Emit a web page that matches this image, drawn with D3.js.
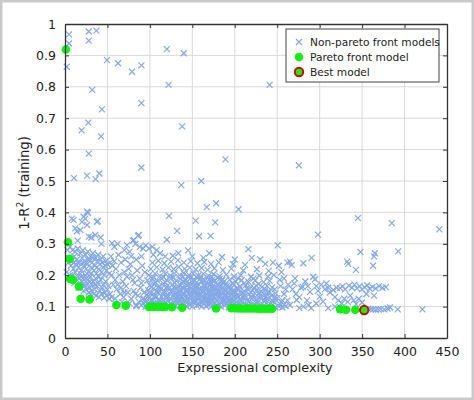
<!DOCTYPE html>
<html>
<head>
<meta charset="utf-8">
<script src="https://cdn.jsdelivr.net/npm/d3@7"></script>
<style>
  body { margin: 0; background: #fff; }
  svg text { font-family: "DejaVu Sans", Verdana, sans-serif; fill: #222; }
</style>
</head>
<body>
<svg id="chart" width="474" height="400"></svg>
<script>
// axis ticks
const xTicks = [0, 50, 100, 150, 200, 250, 300, 350, 400, 450];
const yTicks = [0, 0.1, 0.2, 0.3, 0.4, 0.5, 0.6, 0.7, 0.8, 0.9, 1];

// non-pareto models, [complexity, 1-R^2]
const sparseModels = [
  [4.7,0.967],[4.7,0.938],[2,0.864],[28,0.976],[37,0.979],[28,0.947],[49.5,0.885],[62.5,0.875],
  [79,0.848],[90,0.868],[120,0.92],[140,0.907],[122,0.806],[241,0.806],[32,0.79],[43.5,0.728],
  [90,0.748],[27.5,0.686],[19.6,0.661],[42.5,0.642],[138,0.674],[28,0.587],[189,0.569],[275.5,0.55],
  [90,0.543],[10.6,0.509],[26,0.517],[40.5,0.524],[36,0.506],[137,0.487],[160.5,0.5],[178,0.429],
  [167,0.417],[204.5,0.41],[27,0.399],[122.5,0.389],[345,0.382],[38.5,0.372],[154,0.374],[177,0.368],
  [385,0.366],[132,0.341],[441,0.346],[158,0.324],[171.5,0.325],[120,0.313],[298,0.329],[250.5,0.295],
  [216,0.283],[348,0.274],[392.5,0.276],[365,0.27],[364,0.26],[290.5,0.255],[145,0.279],[133.5,0.27],
  [10.2,0.376],[22,0.386],[26,0.402],[12,0.349],[18,0.344],[26,0.36],[35.7,0.328],[37.7,0.37],
  [28,0.323],[55.4,0.302],[73,0.296],[81,0.312],[86.8,0.328],[8,0.38],[14,0.34],[20,0.37],[24,0.38],
  [31,0.32],[43,0.3],[42,0.32],[15,0.31],[3,0.28],[4,0.24],[2,0.21],[6,0.2]
];

const leftModels = [
  [6,0.29],[9,0.28],[12,0.275],[15,0.285],[18,0.27],[21,0.28],[24,0.265],[27,0.275],[30,0.26],[33,0.27],
  [36,0.255],[39,0.265],[42,0.25],[45,0.26],[48,0.245],[5,0.255],[8,0.245],[11,0.26],[14,0.25],[17,0.24],
  [20,0.255],[23,0.245],[26,0.235],[29,0.25],[32,0.24],[35,0.23],[38,0.245],[41,0.235],[44,0.24],[47,0.23],
  [50,0.235],[53,0.24],[56,0.23],[7,0.23],[10,0.22],[13,0.235],[16,0.225],[19,0.215],[22,0.23],[25,0.22],
  [28,0.21],[31,0.225],[34,0.215],[37,0.205],[40,0.22],[43,0.21],[46,0.2],[49,0.215],[52,0.205],[9,0.2],
  [12,0.21],[15,0.195],[18,0.205],[21,0.19],[24,0.2],[27,0.185],[30,0.195],[33,0.18],[36,0.19],[39,0.175],
  [42,0.185],[45,0.17],[48,0.18],[51,0.165],[11,0.175],[14,0.185],[17,0.17],[20,0.18],[23,0.165],[26,0.175],
  [29,0.16],[32,0.17],[35,0.155],[38,0.165],[41,0.15],[44,0.16],[47,0.145],[50,0.155],[53,0.14],[22,0.15],
  [25,0.155],[28,0.145],[31,0.15],[34,0.14],[37,0.135],[40,0.13],[43,0.14],[46,0.128],[49,0.135],[52,0.125],
  [55,0.13],[58,0.29],[62,0.3],[66,0.24],[70,0.21],[73,0.195],[76,0.275],[80,0.31],[83,0.3],[86,0.325],
  [88,0.29],[92,0.285],[95,0.295],[78,0.26],[84,0.25],[90,0.26],[60,0.22],[64,0.2],[68,0.18],[72,0.165],
  [75,0.22],[79,0.2],[82,0.175],[85,0.215],[88,0.19],[91,0.23],[94,0.21],[57,0.17],[61,0.155],[65,0.14],
  [69,0.13],[74,0.145],[78,0.125],[81,0.15],[86,0.135],[89,0.16],[93,0.145],[59,0.125],[67,0.115],[76,0.11],
  [87,0.115],[58,0.245],[54,0.26],[63,0.265],[71,0.25],
  [19,0.195],[25,0.19],[29,0.178],[16,0.16],[22,0.172],[30,0.14],[35,0.17],[40,0.195],[26,0.205],[31,0.205],
  [10,0.24],[15,0.24],[21,0.24],[27,0.25],[33,0.255],[45,0.225],[55,0.2],[59,0.185],[62,0.17],[70,0.145],
  [83,0.14],[90,0.175],[92,0.125],[84,0.105],[80,0.185],[66,0.16],[77,0.235],[70,0.28]
];

const coreModels = [
  [84,0.101],[90,0.104],[95,0.099],[102,0.102],[108,0.104],[113,0.101],[121,0.103],[130,0.102],[135,0.104],
  [143,0.101],[150,0.1],[155,0.103],[161,0.1],[166,0.102],[172,0.099],[184,0.1],[188,0.103],[193,0.098],
  [248,0.098],[252,0.1],[256,0.097],[260,0.101],
  [92,0.112],[97,0.108],[100,0.115],[104,0.11],[109,0.113],[114,0.108],[118,0.114],[124,0.11],[128,0.115],
  [133,0.109],[138,0.113],[142,0.117],[147,0.11],[152,0.114],[157,0.108],[162,0.113],[167,0.117],[171,0.109],
  [176,0.113],[181,0.107],[186,0.115],[190,0.11],[195,0.113],[199,0.107],[204,0.111],[209,0.115],[213,0.108],
  [218,0.112],[223,0.106],[227,0.113],[232,0.109],[237,0.112],[242,0.107],[247,0.113],[253,0.109],[258,0.106],
  [94,0.123],[99,0.127],[103,0.121],[107,0.129],[111,0.124],[116,0.12],[120,0.127],[125,0.123],[130,0.129],
  [135,0.121],[139,0.127],[144,0.124],[149,0.13],[154,0.12],[158,0.126],[163,0.122],[168,0.128],[173,0.121],
  [177,0.126],[182,0.13],[187,0.122],[191,0.127],[196,0.121],[201,0.126],[206,0.122],[210,0.128],[215,0.121],
  [220,0.126],[225,0.122],[230,0.128],[235,0.121],[239,0.125],[244,0.12],[250,0.127],
  [96,0.138],[101,0.142],[106,0.136],[110,0.144],[115,0.139],[119,0.134],[123,0.142],[128,0.137],[132,0.144],
  [137,0.135],[141,0.141],[146,0.138],[151,0.145],[156,0.136],[160,0.141],[165,0.135],[170,0.143],[174,0.138],
  [179,0.144],[184,0.136],[189,0.14],[194,0.135],[198,0.142],[203,0.137],[208,0.141],[212,0.135],[217,0.14],
  [222,0.136],[228,0.141],[233,0.135],[238,0.139],[243,0.134],
  [98,0.152],[104,0.157],[108,0.15],[113,0.156],[117,0.151],[122,0.158],[126,0.152],[131,0.157],[136,0.15],
  [140,0.156],[145,0.152],[149,0.159],[153,0.151],[158,0.156],[162,0.15],[167,0.157],[172,0.152],[176,0.158],
  [181,0.15],[185,0.155],[190,0.15],[195,0.156],[200,0.149],[205,0.154],[211,0.149],[216,0.155],[221,0.15],
  [226,0.154],[231,0.148],[236,0.152],[241,0.147],
  [100,0.168],[105,0.172],[111,0.166],[116,0.173],[121,0.167],[127,0.171],[133,0.166],[138,0.173],[143,0.168],
  [147,0.174],[152,0.166],[157,0.171],[163,0.167],[168,0.173],[174,0.166],[179,0.171],[184,0.165],[189,0.17],
  [193,0.164],[199,0.169],[206,0.164],[213,0.168],[219,0.163],[225,0.167],[232,0.162],[238,0.166],[244,0.161],
  [97,0.183],[103,0.188],[109,0.182],[114,0.189],[120,0.184],[125,0.19],[131,0.182],[136,0.188],[142,0.184],
  [148,0.191],[153,0.183],[159,0.188],[165,0.182],[170,0.187],[176,0.183],[182,0.188],[188,0.181],[194,0.186],
  [201,0.18],[208,0.184],[216,0.179],[224,0.183],[234,0.178],[241,0.182],
  [99,0.2],[106,0.205],[112,0.198],[118,0.204],[124,0.199],[129,0.206],[135,0.2],[140,0.207],[146,0.201],
  [151,0.206],[157,0.199],[163,0.204],[169,0.198],[175,0.203],[182,0.197],[190,0.202],[199,0.196],[207,0.2],
  [219,0.195],[229,0.199],[239,0.196],[246,0.2],
  [101,0.22],[108,0.225],[115,0.218],[122,0.224],[128,0.219],[134,0.226],[141,0.22],[147,0.224],[154,0.218],
  [161,0.223],[168,0.217],[176,0.222],[186,0.216],[196,0.221],[210,0.215],[226,0.219],[240,0.214],
  [103,0.24],[110,0.246],[117,0.238],[125,0.243],[133,0.247],[140,0.24],[148,0.245],[156,0.238],[164,0.242],
  [172,0.236],[181,0.241],[198,0.235],[212,0.233],[236,0.236],[245,0.24],
  [104,0.265],[112,0.27],[118,0.26],[99,0.285],[103,0.29],[108,0.28],[127,0.262],[150,0.26],[163,0.255],
  [170,0.27],[185,0.258],[200,0.25],[220,0.255],[230,0.25],
  // in-between rows, the core looks nearly solid
  [99,0.106],[106,0.107],[116,0.105],[126,0.106],[139,0.107],[147,0.105],[158,0.106],[169,0.105],[178,0.104],
  [197,0.104],[207,0.105],[216,0.104],[229,0.103],[240,0.104],
  [96,0.118],[102,0.119],[112,0.117],[122,0.119],[131,0.118],[140,0.12],[151,0.118],[160,0.12],[170,0.118],
  [179,0.119],[189,0.118],[198,0.119],[208,0.118],[217,0.117],[226,0.118],[235,0.116],[245,0.117],[255,0.115],
  [98,0.131],[105,0.133],[114,0.131],[122,0.133],[133,0.132],[142,0.134],[152,0.132],[161,0.131],[171,0.133],
  [180,0.132],[189,0.131],[199,0.133],[209,0.131],[219,0.132],[228,0.13],[237,0.131],[247,0.129],
  [100,0.146],[108,0.148],[117,0.145],[125,0.148],[134,0.146],[143,0.148],[153,0.146],[163,0.148],[172,0.145],
  [182,0.147],[192,0.145],[201,0.147],[210,0.144],[219,0.146],[229,0.144],[239,0.145],[248,0.142],
  [102,0.161],[110,0.162],[119,0.16],[128,0.162],[138,0.16],[147,0.163],[155,0.161],[165,0.162],[174,0.16],
  [183,0.161],[193,0.159],[203,0.16],[214,0.158],[223,0.159],[235,0.157],[247,0.155],
  [106,0.177],[118,0.178],[129,0.176],[140,0.178],[150,0.177],[161,0.178],[172,0.176],[186,0.176],[197,0.174],
  [211,0.174],[228,0.172],
  [104,0.193],[116,0.194],[128,0.193],[139,0.195],[155,0.194],[167,0.193],[180,0.192],[204,0.19],[222,0.189],
  // densest middle part
  [134,0.115],[144,0.113],[154,0.116],[164,0.111],[174,0.116],[184,0.112],[193,0.116],[202,0.114],
  [136,0.126],[146,0.128],[156,0.124],[166,0.125],[175,0.129],[185,0.126],[194,0.124],[204,0.13],
  [131,0.14],[139,0.138],[148,0.142],[158,0.139],[167,0.141],[177,0.14],[186,0.142],[196,0.139],
  [135,0.154],[143,0.153],[151,0.155],[160,0.153],[169,0.154],[178,0.155],[188,0.153],[198,0.152],
  [136,0.169],[145,0.171],[155,0.168],[165,0.17],[171,0.168],[181,0.168],[191,0.167],
  [139,0.182],[151,0.186],[162,0.185],[173,0.184],[185,0.184],[145,0.195],[160,0.196],[173,0.194]
];

const rightModels = [
  [252,0.23],[255,0.21],[258,0.19],[262,0.24],[265,0.243],[267,0.232],[263,0.17],[268,0.155],[270,0.174],
  [272,0.14],[273,0.121],[276,0.13],[278,0.16],[280,0.163],[280.7,0.238],[281,0.1],[283,0.18],[285,0.12],
  [287,0.105],[288.6,0.147],[290,0.095],[292.5,0.195],[294.5,0.187],[296,0.165],[298,0.15],[300,0.132],
  [302,0.17],[304,0.116],[306,0.155],[308,0.174],[310,0.16],[312,0.145],[316,0.153],[318,0.1],[262,0.12],
  [265,0.105],[258,0.14],[254,0.165],[260,0.155],[271,0.19],[276,0.095],[286,0.165],[296,0.11],[256,0.12],
  [253,0.185],
  [320,0.16],[324,0.159],[327,0.165],[330,0.155],[334.5,0.167],[338,0.16],[341,0.17],[344,0.158],[347,0.165],
  [350,0.155],[353,0.162],[356,0.168],[359,0.157],[362,0.163],[366,0.158],[370,0.165],[374,0.16],[378,0.162],
  [318,0.13],[322,0.12],[326,0.11],[329,0.125],[333,0.115],[336,0.135],[340,0.12],[343,0.108],[346,0.125],
  [350,0.113],[355,0.14],[364,0.135],
  [310,0.095],[357,0.093],[360,0.092],[363,0.091],[366,0.09],[369,0.091],[372,0.092],[376,0.091],[380,0.094],
  [383,0.097],[392,0.091],[421,0.091],
  [332.5,0.243],[333.7,0.236],[363,0.23],[342.7,0.217]
];

// pareto front
const paretoModels = [
  [1,0.919],[3.5,0.305],[5.5,0.252],[6,0.188],[9,0.186],[16.5,0.164],[18.5,0.125],[29,0.123],
  [60.5,0.105],[71.5,0.103],[99,0.099],[104,0.099],[109,0.099],[114,0.099],[118,0.099],[126,0.098],
  [138,0.0965],[178,0.094],[196,0.095],[200,0.095],[204,0.094],[208,0.094],[212,0.094],[216,0.094],
  [220,0.094],[224,0.094],[228,0.093],[232,0.093],[236,0.093],[240,0.093],[244,0.093],
  [324,0.092],[331,0.09],[342,0.09]
];
const bestModel = [352.5, 0.089];

const legendLabels = ['Non-pareto front models', 'Pareto front model', 'Best model'];

const svg = d3.select('#chart');
const m = {left: 65, right: 447, top: 24, bottom: 338};

// outer frame of the figure
svg.append('rect').attr('x', 1).attr('y', 1).attr('width', 472).attr('height', 398)
  .attr('fill', '#fff').attr('stroke', '#c9c9c9').attr('stroke-width', 3);

const x = d3.scaleLinear().domain([0, 450]).range([m.left, m.right]);
const y = d3.scaleLinear().domain([0, 1]).range([m.bottom, m.top]);

// grid
const grid = svg.append('g');
grid.selectAll('.gx').data(xTicks.slice(1, -1)).enter().append('line')
  .attr('x1', d => x(d)).attr('x2', d => x(d)).attr('y1', m.top).attr('y2', m.bottom)
  .attr('stroke', '#d9d9d9').attr('stroke-width', 1);
grid.selectAll('.gy').data(yTicks.slice(1, -1)).enter().append('line')
  .attr('y1', d => y(d)).attr('y2', d => y(d)).attr('x1', m.left).attr('x2', m.right)
  .attr('stroke', '#d9d9d9').attr('stroke-width', 1);

// crosses
const allCrosses = sparseModels.concat(leftModels, coreModels, rightModels);
const s = 3;
const crossPath = (px, py) => `M${px-s},${py-s}L${px+s},${py+s}M${px-s},${py+s}L${px+s},${py-s}`;
svg.append('g').selectAll('path').data(allCrosses).enter().append('path')
  .attr('d', d => crossPath(x(d[0]), y(d[1])))
  .attr('stroke', '#84a8e6').attr('stroke-width', 1.2).attr('fill', 'none');

// pareto
svg.append('g').selectAll('circle').data(paretoModels).enter().append('circle')
  .attr('cx', d => x(d[0])).attr('cy', d => y(d[1])).attr('r', 4.3)
  .attr('fill', '#13ee13');
svg.append('circle').attr('cx', x(bestModel[0])).attr('cy', y(bestModel[1])).attr('r', 4.2)
  .attr('fill', '#13ee13').attr('stroke', '#d80000').attr('stroke-width', 2);

// axes box with ticks on all sides
const axisColor = '#333';
svg.append('g').attr('transform', `translate(0,${m.bottom})`)
  .call(d3.axisBottom(x).tickValues(xTicks).tickSizeInner(-4).tickSizeOuter(0).tickPadding(9).tickFormat(d3.format('d')))
  .call(g => g.selectAll('text').attr('font-size', 12.5).attr('fill', '#222'));
svg.append('g').attr('transform', `translate(0,${m.top})`)
  .call(d3.axisTop(x).tickValues(xTicks).tickSizeInner(-4).tickSizeOuter(0).tickFormat(''));
svg.append('g').attr('transform', `translate(${m.left},0)`)
  .call(d3.axisLeft(y).tickValues(yTicks).tickSizeInner(-4).tickSizeOuter(0).tickPadding(9).tickFormat(d => d === 0 || d === 1 ? d3.format('d')(d) : d3.format('.1f')(d)))
  .call(g => g.selectAll('text').attr('font-size', 12.5).attr('fill', '#222'));
svg.append('g').attr('transform', `translate(${m.right},0)`)
  .call(d3.axisRight(y).tickValues(yTicks).tickSizeInner(-4).tickSizeOuter(0).tickFormat(''));
svg.selectAll('.domain, .tick line').attr('stroke', axisColor);
svg.selectAll('.domain').attr('stroke-width', 1.3);

// axis labels
svg.append('text').attr('x', (m.left + m.right) / 2 - 1).attr('y', 372)
  .attr('text-anchor', 'middle').attr('font-size', 12.8).text('Expressional complexity');
const yl = svg.append('text').attr('transform', `translate(29,${(m.top + m.bottom) / 2 + 2}) rotate(-90)`)
  .attr('text-anchor', 'middle').attr('font-size', 13.2);
yl.append('tspan').text('1-R');
yl.append('tspan').attr('font-size', 9).attr('dy', -6).text('2');
yl.append('tspan').attr('dy', 6).text(' (training)');

// legend
const lg = svg.append('g').attr('transform', 'translate(286,29)');
lg.append('rect').attr('width', 153).attr('height', 53).attr('fill', '#fff')
  .attr('stroke', '#444').attr('stroke-width', 1);
lg.append('path').attr('d', crossPath(13, 13))
  .attr('stroke', '#84a8e6').attr('stroke-width', 1.2);
lg.append('circle').attr('cx', 13).attr('cy', 28).attr('r', 4.3).attr('fill', '#13ee13');
lg.append('circle').attr('cx', 13).attr('cy', 43).attr('r', 4.2).attr('fill', '#13ee13')
  .attr('stroke', '#d80000').attr('stroke-width', 2);
lg.selectAll('.lt').data(legendLabels).enter().append('text')
  .attr('x', 24).attr('y', (d, i) => 17 + i * 15).attr('font-size', 10.6).text(d => d);
</script>
</body>
</html>
